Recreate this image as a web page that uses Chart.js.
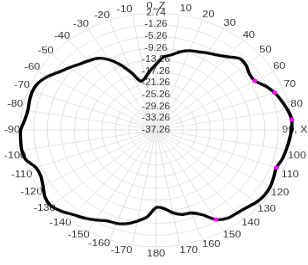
<!DOCTYPE html>
<html>
<head>
<meta charset="utf-8">
<script src="https://cdn.jsdelivr.net/npm/chart.js@4.4.0/dist/chart.umd.min.js"></script>
<style>
  html, body { margin: 0; padding: 0; background: #fff; overflow: hidden; width: 308px; height: 265px; }
  /* the reference is a square polar plot squeezed down to 308x265 */
  #view { position: absolute; left: 0; top: 0; width: 308px; height: 308px; transform: scaleY(0.8604); transform-origin: 0 0; }
  #polar { position: absolute; left: 0; top: 0; }
</style>
</head>
<body>
<div id="view"><canvas id="polar" width="308" height="308"></canvas></div>
<script>
// angle labels every 10 degrees, clockwise from the top
const angleLabels = ['0, Z', '10', '20', '30', '40', '50', '60', '70', '80', '90, X',
  '100', '110', '120', '130', '140', '150', '160', '170', '180',
  '-170', '-160', '-150', '-140', '-130', '-120', '-110', '-100', '-90',
  '-80', '-70', '-60', '-50', '-40', '-30', '-20', '-10'];

// radial tick values (dB)
const radialTicks = [-37.26, -33.26, -29.26, -25.26, -21.26, -17.26, -13.26, -9.26, -5.26, -1.26, 2.74];

const gains = [
  -14.86, -12.18, -11.18, -9.54, -8.38, -7.78, -6.86, -5.94, -4.54, -2.62,
  -2.70, -3.70, -3.66, -1.70, -0.06, 1.06, 2.10, 2.86, 2.62, 2.14,
  1.66, 1.22, 0.46, 0.98, 1.58, 1.70, 1.26, 0.38, -0.14, -0.42,
  -1.86, -5.26, -7.02, -7.30, -8.46, -10.26, -10.66, -7.38, -5.58, -4.06,
  -3.26, -2.94, -1.66, -0.46, 0.58, 2.10, 3.14, 2.66, 1.14, 0.14,
  0.34, 2.34, 2.86, 2.74, 2.58, 1.54, 1.06, 1.30, 1.46, 0.94,
  -0.58, -2.58, -4.06, -5.38, -6.38, -7.34, -9.46, -12.66, -16.58, -20.06,
  -19.10, -16.94
];

// points (5 degree steps) that carry the magenta markers
const markerIdx = [12, 14, 17, 22, 30];

const labels = gains.map((_, i) => (i % 2 ? '' : angleLabels[i / 2]));

// where the plot sits, in the unsqueezed frame
const frame = { cx: 155.5, cy: 151, r: 136, labelRing: 145 };
const FONT = '"Liberation Sans", Arial, sans-serif';
Chart.defaults.font.family = FONT;

const measure = document.createElement('canvas').getContext('2d');
measure.font = '11px ' + FONT;

// Chart.js puts a label's corner on the ring; pad it so its middle sits on labelRing
function labelPad(ctx) {
  const label = ctx.label || '';
  const a = ctx.index * 5 * Math.PI / 180;
  const sx = Math.abs(Math.sin(a)), cy = Math.abs(Math.cos(a));
  const w = measure.measureText(label).width;
  const ring = frame.labelRing - (label.includes(',') ? 5 * sx : 0);
  return ring - frame.r - 8 - sx * w / 2 - cy * 6.6;
}

const chart = new Chart(document.getElementById('polar'), {
  type: 'radar',
  data: {
    labels: labels,
    datasets: [{
      label: 'Gain',
      data: gains,
      borderColor: '#000',
      borderWidth: 3.3,
      backgroundColor: 'rgba(0,0,0,0)',
      fill: false,
      tension: 0.25,
      pointRadius: ctx => (markerIdx.includes(ctx.dataIndex) ? 2.5 : 0),
      pointBackgroundColor: '#ff00ff',
      pointBorderWidth: 0
    }]
  },
  options: {
    responsive: false,
    maintainAspectRatio: false,
    animation: false,
    plugins: { legend: { display: false }, tooltip: { enabled: false } },
    scales: {
      r: {
        min: radialTicks[0],
        max: radialTicks[radialTicks.length - 1],
        afterBuildTicks: s => { s.ticks = radialTicks.map(v => ({ value: v })); },
        ticks: {
          callback: v => v.toFixed(2),
          color: '#333',
          font: { size: 10 },
          showLabelBackdrop: false
        },
        grid: { circular: true, color: '#e3e3e3', lineWidth: 1 },
        angleLines: { color: ctx => (ctx.index % 2 ? 'rgba(0,0,0,0)' : '#e3e3e3'), lineWidth: 1 },
        pointLabels: { font: { size: 11 }, color: '#333', padding: labelPad }
      }
    }
  }
});

// grow the canvas until the outer ring has the wanted radius, then slide its centre into place
const canvas = document.getElementById('polar');
let size = chart.width;
for (let k = 0; k < 2; k++) {
  size = Math.round(size + 2 * (frame.r - chart.scales.r.drawingArea));
  chart.resize(size, size);
}
const r = chart.scales.r;
canvas.style.left = (frame.cx - r.xCenter) + 'px';
canvas.style.top = (frame.cy - r.yCenter) + 'px';
</script>
</body>
</html>
